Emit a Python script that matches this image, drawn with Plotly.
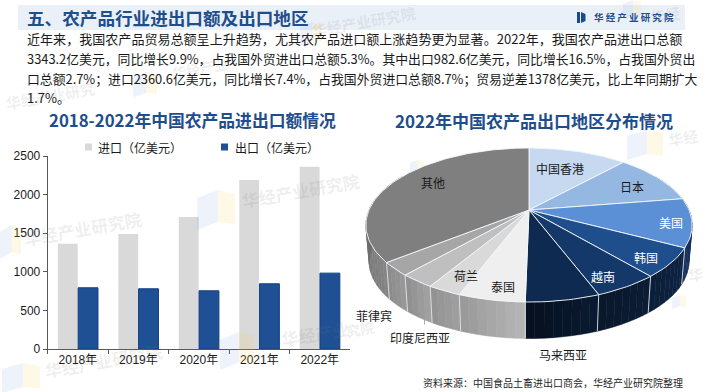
import math
import plotly.graph_objects as go

# ---------- data ----------
years = ["2018年", "2019年", "2020年", "2021年", "2022年"]
imports = [1362, 1491, 1711, 2190, 2360.6]
exports = [793, 780, 754, 845, 982.6]
series_names = ["进口（亿美元）", "出口（亿美元）"]
regions = ["中国香港", "日本", "美国", "韩国", "越南", "马来西亚", "泰国", "荷兰", "印度尼西亚", "菲律宾", "其他"]
shares = [11.8, 10.7, 10.2, 6.1, 5.4, 6.1, 5.5, 2.8, 2.9, 2.8, 35.7]

page_title = "五、农产品行业进出口额及出口地区"
body_lines = [
    "近年来，我国农产品贸易总额呈上升趋势，尤其农产品进口额上涨趋势更为显著。2022年，我国农产品进出口总额",
    "3343.2亿美元，同比增长9.9%，占我国外贸进出口总额5.3%。其中出口982.6亿美元，同比增长16.5%，占我国外贸出",
    "口总额2.7%；进口2360.6亿美元，同比增长7.4%，占我国外贸进口总额8.7%；贸易逆差1378亿美元，比上年同期扩大",
    "1.7%。",
]

# ---------- styles ----------
CJK = "Noto Sans CJK SC"
BLUE = "#1f4e8c"
IMPORT_COL, EXPORT_COL, EXPORT_EDGE = "#d9d9d9", "#1f5093", "#123f86"
top_colors = ["#c6d9f1", "#95b8e3", "#5b8fd6", "#1f4e8c", "#15386b", "#0e2a50",
              "#efefef", "#d9d9d9", "#bfbfbf", "#a6a6a6", "#7f7f7f"]
side_colors = [("#a9c0dc", "#a9c0dc"), ("#7f9dc4", "#7f9dc4"), ("#1c3b69", "#16305a"),
               ("#0d2342", "#0b1f3a"), ("#0b1c34", "#0a182c"), ("#091a30", "#061020"),
               ("#b4b4b4", "#9a9a9a"), ("#9e9e9e", "#939393"), ("#a0a0a0", "#909090"),
               ("#979797", "#8c8c8c"), ("#858585", "#555555")]

# projection of the pie plane on the page
CX, CY, RAD, A, B, DROP, SHRINK = 529.0, 210.0, 160.0, 74.1, 0.195, 36.5, 0.98


def project(deg, lower=False):
    th = math.radians(deg)
    t = math.cos(th)
    s = 1 / (1 + B * t)
    x, y = RAD * math.sin(th) * s, -A * t * s
    if lower:
        return CX + x * SHRINK, CY + y + DROP
    return CX + x, CY + y


def mix(c1, c2, f):
    a = [int(c1[i:i + 2], 16) for i in (1, 3, 5)]
    b = [int(c2[i:i + 2], 16) for i in (1, 3, 5)]
    return "#%02x%02x%02x" % tuple(round(p + (q - p) * f) for p, q in zip(a, b))


fig = go.Figure()

# bars
fig.add_bar(x=years, y=imports, name=series_names[0], marker=dict(color=IMPORT_COL, line=dict(width=0)))
fig.add_bar(x=years, y=exports, name=series_names[1],
            marker=dict(color=EXPORT_COL, line=dict(color=EXPORT_EDGE, width=1)))

# pie, sides first
total = sum(shares)
edges = [0.0]
for v in shares:
    edges.append(edges[-1] + v / total * 360)


def pie_trace(xs, ys, fill, line, width):
    fig.add_scatter(x=xs, y=ys, xaxis="x2", yaxis="y2", mode="lines", fill="toself", fillcolor=fill,
                    line=dict(color=line, width=width), hoverinfo="skip", showlegend=False)


for i in range(len(shares)):
    a0, a1 = edges[i], edges[i + 1]
    lo, hi = max(a0, 60.0), min(a1, 300.0)
    if hi <= lo:
        continue
    n = max(2, int((hi - lo) / 2.5))
    for k in range(n):
        d0, d1 = lo + (hi - lo) * k / n, lo + (hi - lo) * (k + 1) / n
        f = k / max(n - 1, 1)
        col = mix(side_colors[i][0], side_colors[i][1], f)
        arc = [d0 + (d1 - d0) * j / 3 for j in range(4)]
        up = [project(d) for d in arc]
        dn = [project(d, True) for d in reversed(arc)]
        pts = up + dn + [up[0]]
        pie_trace([p[0] for p in pts], [p[1] for p in pts], col, col, 0.5)

# side separators
for e in edges[3:-1]:
    if 100 < e < 300:
        p, q = project(e), project(e, True)
        col = "#c8d0dc" if e < 180 else "#dddddd"
        fig.add_scatter(x=[p[0], q[0]], y=[p[1], q[1]], xaxis="x2", yaxis="y2", mode="lines",
                        line=dict(color=col, width=1), hoverinfo="skip", showlegend=False)

# pie, top surface
for i in range(len(shares)):
    a0, a1 = edges[i], edges[i + 1]
    n = max(4, int((a1 - a0) / 1.5))
    pts = [(CX, CY)] + [project(a0 + (a1 - a0) * j / n) for j in range(n + 1)] + [(CX, CY)]
    pie_trace([p[0] for p in pts], [p[1] for p in pts], top_colors[i], "#f4f7fb", 0.9)

anns = []
shapes = []


def text(x, y, s, size=12, color="#1a1a1a", bold=False, font=CJK, anchor="center", angle=0):
    anns.append(dict(x=x, y=y, xref="x2", yref="y2", text=f"<b>{s}</b>" if bold else s, showarrow=False,
                     xanchor=anchor, yanchor="middle", textangle=angle,
                     font=dict(family=font, size=size, color=color)))


def poly(points, fill, layer="below"):
    path = "M" + " L".join(f"{x},{y}" for x, y in points) + " Z"
    shapes.append(dict(type="path", path=path, xref="x2", yref="y2", fillcolor=fill,
                       line=dict(width=0), layer=layer))


def logo(x, y, w, h):
    poly([(x, y + h * 0.2), (x + w * 0.55, y), (x + w * 0.55, y + h * 0.8), (x, y + h)], "rgba(90,140,215,0.10)")
    poly([(x + w * 0.55, y), (x + w, y + h * 0.1), (x + w, y + h * 0.85), (x + w * 0.55, y + h * 0.8)],
         "rgba(245,205,80,0.14)")


# header band
shapes.append(dict(type="rect", x0=18, x1=685, y0=5, y1=30, xref="x2", yref="y2",
                   fillcolor="#eaf0f8", line=dict(width=0), layer="below"))

# watermarks
for lx, ly, lw, lh in [(0, 225, 21, 34), (197, 190, 38, 40), (2, 363, 38, 30), (220, 332, 34, 38),
                       (133, 72, 24, 26), (300, 22, 22, 24), (623, 0, 18, 18), (627, 130, 36, 30),
                       (672, 295, 14, 14), (410, 160, 14, 12)]:
    logo(lx, ly, lw, lh)

WM = "rgba(120,120,120,0.13)"
for wx, wy, ws, wsize in [(82, 228, "华经产业研究院", 17), (300, 190, "华经产业研究院", 17),
                          (103, 360, "华经产业研究院", 17), (315, 333, "华经产业", 17),
                          (200, 68, "华经产业", 14), (363, 21, "华经产业研究院", 15),
                          (50, 95, "华经产业研究", 15), (665, 14, "华经", 15), (683, 137, "华经", 15),
                          (695, 274, "华", 15), (360, 329, "究院", 14)]:
    text(wx, wy, ws, size=wsize, color=WM, bold=True, angle=-10)

# header and body
text(25, 17.5, page_title, size=17.6, color=BLUE, bold=True, anchor="left")
shapes.append(dict(type="rect", x0=577, x1=580, y0=12, y1=23, xref="x2", yref="y2", fillcolor="#1b4a8a",
                   line=dict(width=0)))
poly([(581, 12), (585.5, 14), (585.5, 21), (581, 23)], "#1b4a8a", "above")
text(592, 17, "华 经 产 业 研 究 院", size=9.5, color=BLUE, bold=True, anchor="left")

for ly, s, fs in zip([38.5, 58, 78, 97], body_lines, [13.05, 12.85, 12.85, 13]):
    text(25, ly, s, size=fs, anchor="left")

text(192, 120, "2018-2022年中国农产品进出口额情况", size=16.8, color=BLUE, bold=True)
text(534, 120, "2022年中国农产品出口地区分布情况", size=17, color=BLUE, bold=True)

# legend of the bar chart
for mx, col, tx, s in [(85, IMPORT_COL, 96, series_names[0]), (221, EXPORT_COL, 233, series_names[1])]:
    shapes.append(dict(type="rect", x0=mx, x1=mx + 7, y0=143.5, y1=150.5, xref="x2", yref="y2", fillcolor=col,
                       line=dict(width=0)))
    text(tx, 147, s, size=12, anchor="left")

# pie labels
label_pos = [(560, 168, "#1a1a1a"), (632, 186, "#1a1a1a"), (671, 222, "#ffffff"), (646, 257, "#ffffff"),
             (603, 276, "#ffffff"), (563, 354, "#1a1a1a"), (503, 286, "#1a1a1a"), (466, 275, "#1a1a1a"),
             (420, 337, "#1a1a1a"), (374, 315, "#1a1a1a"), (433, 182, "#1a1a1a")]
for name, (lx, ly, col) in zip(regions, label_pos):
    text(lx, ly, name, size=12, color=col)
shapes.append(dict(type="line", x0=424.5, x1=424.5, y0=320, y1=324.5, xref="x2", yref="y2",
                   line=dict(color="#999999", width=0.8)))

text(552.5, 382, "资料来源：中国食品土畜进出口商会，华经产业研究院整理", size=10, color="#262626", anchor="center")

fig.update_layout(
    width=705, height=392, margin=dict(l=0, r=0, t=0, b=0, pad=0, autoexpand=False),
    paper_bgcolor="white", plot_bgcolor="rgba(0,0,0,0)",
    barmode="group", bargap=0.33, bargroupgap=0.02, showlegend=False, hovermode=False,
    font=dict(family="Liberation Sans", size=12, color="#1a1a1a"),
    xaxis=dict(domain=[47.7 / 705, 350 / 705], anchor="y", tickson="boundaries", ticks="outside", ticklen=4,
               automargin=False, tickcolor="#595959", linecolor="#595959", showline=True, showgrid=False,
               zeroline=False, tickfont=dict(family="Liberation Sans, Noto Sans CJK SC", size=12, color="#1a1a1a")),
    yaxis=dict(domain=[(392 - 349) / 392, (392 - 156) / 392], anchor="x", range=[0, 2500], tick0=0, dtick=500,
               automargin=False, ticks="outside", ticklen=4, tickcolor="#595959", linecolor="#595959",
               showline=True, showgrid=False, zeroline=False, tickfont=dict(size=12, color="#1a1a1a")),
    xaxis2=dict(domain=[0, 1], range=[0, 705], visible=False, anchor="y2", fixedrange=True, automargin=False),
    yaxis2=dict(domain=[0, 1], range=[392, 0], visible=False, anchor="x2", fixedrange=True, automargin=False),
    annotations=anns, shapes=shapes,
)
fig.write_html("out.html", config=dict(displayModeBar=False),
               post_script="document.body.style.margin='0';document.body.style.overflow='hidden';")
